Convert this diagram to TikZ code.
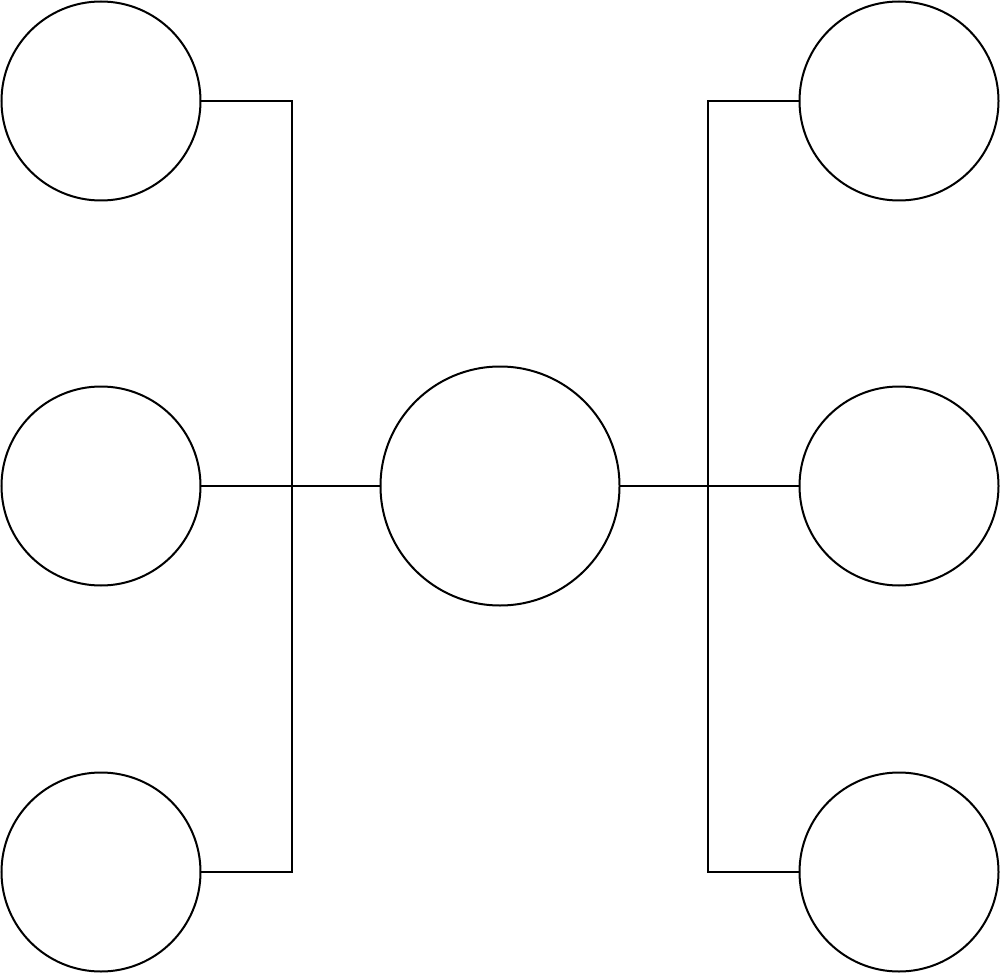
\documentclass[tikz,border=0pt]{standalone}
\begin{document}
\begin{tikzpicture}[x=1pt,y=-1pt,
  ball/.style={circle,draw=black,line width=2pt,minimum size=199pt,inner sep=0pt,outer sep=0pt},
  bigball/.style={ball,minimum size=239pt},
  link/.style={draw=black,line width=2pt}]
\useasboundingbox (0,0) rectangle (1000,973);
\node[ball] (lt) at (101,101) {};
\node[ball] (lm) at (101,486) {};
\node[ball] (lb) at (101,872) {};
\node[ball] (rt) at (899,101) {};
\node[ball] (rm) at (899,486) {};
\node[ball] (rb) at (899,872) {};
\node[bigball] (c) at (500,486) {};
\coordinate (jl) at (292,486);
\coordinate (jr) at (708,486);
\draw[link] (lt.east) -| (jl) |- (lb.east);
\draw[link] (lm.east) -- (c.west);
\draw[link] (rt.west) -| (jr) |- (rb.west);
\draw[link] (c.east) -- (rm.west);
\end{tikzpicture}
\end{document}
